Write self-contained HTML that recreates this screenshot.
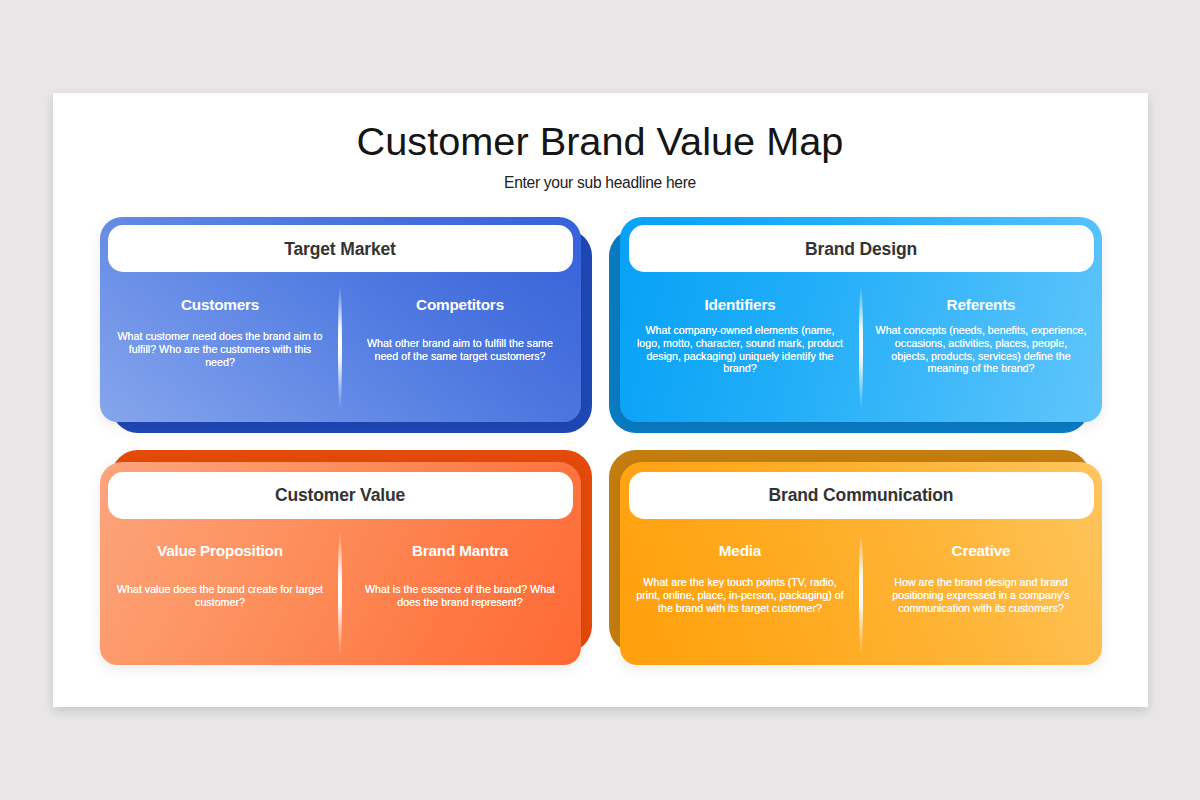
<!DOCTYPE html>
<html><head><meta charset="utf-8">
<style>
*{margin:0;padding:0;box-sizing:border-box}
html,body{width:1200px;height:800px;overflow:hidden;background:#e8e6e7;font-family:"Liberation Sans",sans-serif}
.slide{position:absolute;left:53px;top:93px;width:1095px;height:614px;background:#fff;box-shadow:0 4px 10px rgba(0,0,0,0.14)}
.title{position:absolute;left:0;top:119px;width:1200px;text-align:center;font-size:39.7px;line-height:45px;color:#151515;white-space:nowrap}
.sub{position:absolute;left:0;top:174px;width:1200px;text-align:center;font-size:15.6px;letter-spacing:-0.3px;line-height:18px;color:#222;white-space:nowrap}
.back,.front{position:absolute;border-radius:20px}
.back{border-radius:27px}
.front{border-radius:22px 22px 17px 17px;box-shadow:0 4px 14px rgba(0,0,0,0.08)}
.hdr{position:absolute;background:#fff;border-radius:15px;text-align:center;font-weight:bold;font-size:17.5px;letter-spacing:-0.15px;color:#333;line-height:47px;white-space:nowrap}
.col{position:absolute;text-align:center;color:#fff}
.col h3{position:absolute;left:0;width:100%;font-size:15.3px;letter-spacing:-0.2px;font-weight:bold;line-height:18px;white-space:nowrap}
.col p{position:absolute;left:0;width:100%;font-size:10.7px;line-height:12.8px;color:#fff;text-shadow:0 0 0.4px rgba(255,255,255,0.9);display:flex;align-items:center;justify-content:center}
.col p span{display:block}
.div{position:absolute;width:4px;background:linear-gradient(to bottom,rgba(255,255,255,0) 0%,rgba(255,255,255,0.4) 14%,rgba(255,255,255,0.92) 34%,#fff 46%,rgba(255,255,255,0.92) 60%,rgba(255,255,255,0.45) 80%,rgba(255,255,255,0) 100%);border-radius:50%}
</style></head><body>
<div class="slide"></div>
<div class="title">Customer Brand Value Map</div>
<div class="sub">Enter your sub headline here</div>

<!-- TL -->
<div class="back" style="left:111px;top:229px;width:481px;height:204px;background:#1f48b6"></div>
<div class="front" style="left:100px;top:217px;width:481px;height:204.5px;background:linear-gradient(38deg,#86a6ec 0%,#6a8fe7 30%,#5680e2 50%,#4670dd 72%,#3462da 100%)"></div>
<div class="hdr" style="left:107.5px;top:225px;width:465px;height:46.75px;line-height:49px">Target Market</div>

<!-- TR -->
<div class="back" style="left:609px;top:229px;width:481px;height:204px;background:#0a7cc4"></div>
<div class="front" style="left:620px;top:217px;width:481.5px;height:204.5px;background:linear-gradient(105deg,#06a1f6 0%,#22aef8 40%,#60c5fb 100%)"></div>
<div class="hdr" style="left:628.5px;top:225px;width:465px;height:46.75px;line-height:49px">Brand Design</div>

<!-- BL -->
<div class="back" style="left:111px;top:449.5px;width:481px;height:203px;background:#e44a0a"></div>
<div class="front" style="left:100px;top:461.5px;width:481px;height:203px;background:linear-gradient(118deg,#fca47e 0%,#fd9868 25%,#fd8955 50%,#fe7945 72%,#ff6933 100%)"></div>
<div class="hdr" style="left:107.5px;top:471.5px;width:465px;height:47px">Customer Value</div>

<!-- BR -->
<div class="back" style="left:609px;top:449.5px;width:481px;height:203px;background:#c47d0f"></div>
<div class="front" style="left:620px;top:461.5px;width:481.5px;height:203px;background:linear-gradient(68deg,#ffa00c 0%,#ffa81c 30%,#feb538 65%,#ffc55e 100%)"></div>
<div class="hdr" style="left:628.5px;top:471.5px;width:465px;height:47px">Brand Communication</div>

<!-- dividers -->
<div class="div" style="left:338px;top:285px;height:125px"></div>
<div class="div" style="left:859px;top:285px;height:125px"></div>
<div class="div" style="left:338px;top:531px;height:125px"></div>
<div class="div" style="left:859px;top:531px;height:125px"></div>

<!-- TL cols -->
<div class="col" style="left:100px;top:283px;width:240px;height:130px">
  <h3 style="top:13px">Customers</h3>
  <p style="top:34px;height:65px"><span>What customer need does the brand aim to<br>fulfill? Who are the customers with this<br>need?</span></p>
</div>
<div class="col" style="left:340px;top:283px;width:240px;height:130px">
  <h3 style="top:13px">Competitors</h3>
  <p style="top:34px;height:65px"><span>What other brand aim to fulfill the same<br>need of the same target customers?</span></p>
</div>
<!-- TR cols -->
<div class="col" style="left:620px;top:283px;width:240px;height:130px">
  <h3 style="top:13px">Identifiers</h3>
  <p style="top:34px;height:65px"><span>What company-owned elements (name,<br>logo, motto, character, sound mark, product<br>design, packaging) uniquely identify the<br>brand?</span></p>
</div>
<div class="col" style="left:861px;top:283px;width:240px;height:130px">
  <h3 style="top:13px">Referents</h3>
  <p style="top:34px;height:65px"><span>What concepts (needs, benefits, experience,<br>occasions, activities, places, people,<br>objects, products, services) define the<br>meaning of the brand?</span></p>
</div>
<!-- BL cols -->
<div class="col" style="left:100px;top:529px;width:240px;height:130px">
  <h3 style="top:13px">Value Proposition</h3>
  <p style="top:34px;height:65px"><span>What value does the brand create for target<br>customer?</span></p>
</div>
<div class="col" style="left:340px;top:529px;width:240px;height:130px">
  <h3 style="top:13px">Brand Mantra</h3>
  <p style="top:34px;height:65px"><span>What is the essence of the brand? What<br>does the brand represent?</span></p>
</div>
<!-- BR cols -->
<div class="col" style="left:620px;top:529px;width:240px;height:130px">
  <h3 style="top:13px">Media</h3>
  <p style="top:34px;height:65px"><span>What are the key touch points (TV, radio,<br>print, online, place, in-person, packaging) of<br>the brand with its target customer?</span></p>
</div>
<div class="col" style="left:861px;top:529px;width:240px;height:130px">
  <h3 style="top:13px">Creative</h3>
  <p style="top:34px;height:65px"><span>How are the brand design and brand<br>positioning expressed in a company's<br>communication with its customers?</span></p>
</div>
</body></html>
